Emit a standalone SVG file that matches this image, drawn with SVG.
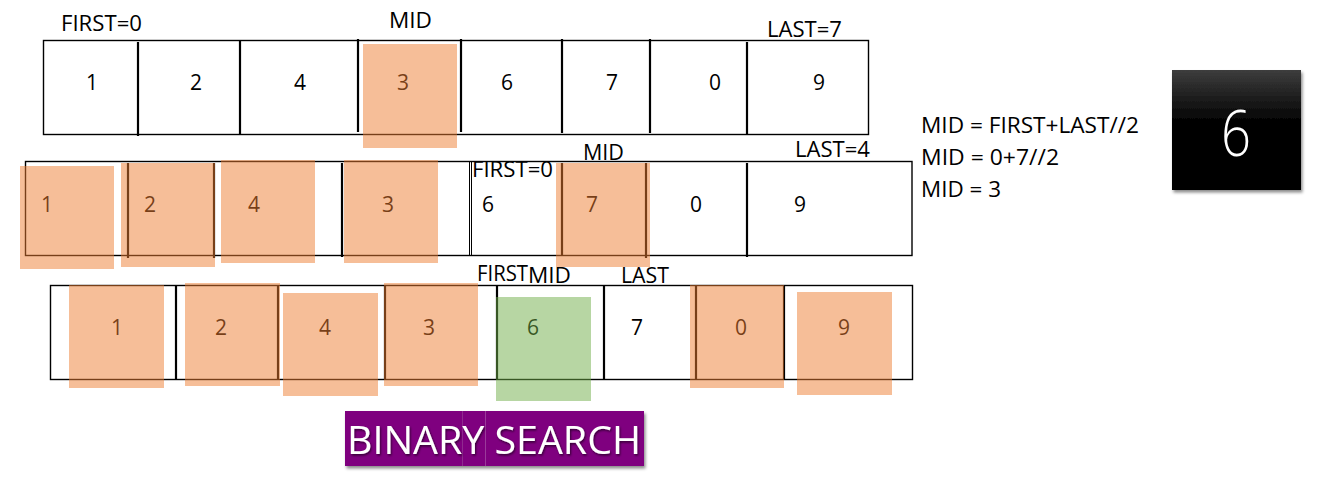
<svg xmlns="http://www.w3.org/2000/svg" width="1319" height="488" viewBox="0 0 1319 488">
<style>
.frame{fill:none;stroke:#000;stroke-width:1.4}
.div{stroke:#000;stroke-width:2.2}
.thin{stroke:#000;stroke-width:1}
.t{font-family:"Open Sans",Lato,"Liberation Sans",sans-serif;font-size:21px;fill:#000}
.n{font-family:"Open Sans",Lato,"Liberation Sans",sans-serif;font-size:21px;fill:#000;text-anchor:middle}
.hl{fill:#ED7D31;fill-opacity:0.5}
.ok{fill:#70AD47;fill-opacity:0.5}
</style>
<defs>
<linearGradient id="blk" x1="0" y1="0" x2="0" y2="1">
<stop offset="0" stop-color="#3d3d3d"/>
<stop offset="0.45" stop-color="#000"/>
<stop offset="1" stop-color="#000"/>
</linearGradient>
<filter id="sh" x="-10%" y="-10%" width="125%" height="130%">
<feDropShadow dx="1.5" dy="2.5" stdDeviation="1.8" flood-color="#000" flood-opacity="0.45"/>
</filter>
<filter id="tsh" x="-5%" y="-10%" width="110%" height="130%">
<feDropShadow dx="1" dy="1.5" stdDeviation="1" flood-color="#000" flood-opacity="0.6"/>
</filter>
</defs>
<rect width="1319" height="488" fill="#fff"/>

<g id="row1">
<rect class="frame" x="43.5" y="40.5" width="825" height="94"/>
<line class="div" x1="138" y1="42" x2="138" y2="136"/>
<line class="div" x1="240" y1="40" x2="240" y2="134"/>
<line class="div" x1="358" y1="39" x2="358" y2="132"/>
<line class="div" x1="461" y1="39" x2="461" y2="132"/>
<line class="div" x1="562" y1="39" x2="562" y2="133"/>
<line class="div" x1="650" y1="39" x2="650" y2="133"/>
<line class="div" x1="747" y1="42" x2="747" y2="135"/>
<text class="t" x="61" y="31" textLength="81" lengthAdjust="spacingAndGlyphs">FIRST=0</text>
<text class="t" x="389" y="28" textLength="43" lengthAdjust="spacingAndGlyphs">MID</text>
<text class="t" x="767" y="37" textLength="75" lengthAdjust="spacingAndGlyphs">LAST=7</text>
<text class="n" x="92" y="90">1</text>
<text class="n" x="196" y="90">2</text>
<text class="n" x="300" y="90">4</text>
<text class="n" x="403" y="90">3</text>
<text class="n" x="507" y="90">6</text>
<text class="n" x="612" y="90">7</text>
<text class="n" x="715" y="90">0</text>
<text class="n" x="819" y="90">9</text>
<rect class="hl" x="363" y="44" width="94" height="104"/>
</g>

<g id="row2">
<rect class="frame" x="25.5" y="161.5" width="886.5" height="94"/>
<line class="div" x1="128" y1="163" x2="128" y2="258"/>
<line class="div" x1="214" y1="163" x2="214" y2="258"/>
<line class="div" x1="342" y1="163" x2="342" y2="257"/>
<line class="thin" x1="469.5" y1="161" x2="469.5" y2="256"/>
<line class="thin" x1="471.5" y1="161" x2="471.5" y2="256"/>
<line class="div" x1="562" y1="163" x2="562" y2="255"/>
<line class="div" x1="646" y1="163" x2="646" y2="258"/>
<line class="div" x1="747" y1="163" x2="747" y2="257"/>
<text class="t" x="472" y="177" textLength="81" lengthAdjust="spacingAndGlyphs">FIRST=0</text>
<text class="t" x="583" y="160" textLength="41" lengthAdjust="spacingAndGlyphs">MID</text>
<text class="t" x="795" y="157" textLength="75" lengthAdjust="spacingAndGlyphs">LAST=4</text>
<text class="n" x="47" y="212">1</text>
<text class="n" x="150" y="212">2</text>
<text class="n" x="254" y="212">4</text>
<text class="n" x="388" y="212">3</text>
<text class="n" x="488" y="212">6</text>
<text class="n" x="592" y="212">7</text>
<text class="n" x="696" y="212">0</text>
<text class="n" x="800" y="212">9</text>
<rect class="hl" x="20" y="166" width="94" height="103"/>
<rect class="hl" x="121" y="163" width="94" height="104"/>
<rect class="hl" x="221" y="160" width="94" height="103"/>
<rect class="hl" x="344" y="160" width="94" height="103"/>
<rect class="hl" x="556" y="163" width="94" height="104"/>
</g>

<g id="row3">
<rect class="frame" x="50.5" y="285.5" width="862" height="94"/>
<line class="div" x1="176" y1="285" x2="176" y2="379"/>
<line class="div" x1="278" y1="285" x2="278" y2="379"/>
<line class="div" x1="385" y1="285" x2="385" y2="379"/>
<line class="div" x1="497" y1="285" x2="497" y2="379"/>
<line class="div" x1="604" y1="285" x2="604" y2="379"/>
<line class="div" x1="696" y1="285" x2="696" y2="379"/>
<line class="div" x1="784" y1="285" x2="784" y2="379"/>
<text class="t" x="477" y="281" textLength="51" lengthAdjust="spacingAndGlyphs">FIRST</text>
<text class="t" x="528" y="283" textLength="43" lengthAdjust="spacingAndGlyphs">MID</text>
<text class="t" x="621" y="283" textLength="48" lengthAdjust="spacingAndGlyphs">LAST</text>
<text class="n" x="117" y="335">1</text>
<text class="n" x="221" y="335">2</text>
<text class="n" x="325" y="335">4</text>
<text class="n" x="429" y="335">3</text>
<text class="n" x="533" y="335">6</text>
<text class="n" x="637" y="335">7</text>
<text class="n" x="741" y="335">0</text>
<text class="n" x="844" y="335">9</text>
<rect class="hl" x="69" y="285" width="95" height="103"/>
<rect class="hl" x="185" y="283" width="95" height="103"/>
<rect class="hl" x="283" y="293" width="95" height="103"/>
<rect class="hl" x="384" y="283" width="94" height="103"/>
<rect class="ok" x="496" y="297" width="95" height="104"/>
<rect class="hl" x="690" y="285" width="94" height="103"/>
<rect class="hl" x="797" y="292" width="95" height="103"/>
</g>

<g id="formula">
<text class="t" x="921" y="133" textLength="218" lengthAdjust="spacingAndGlyphs">MID = FIRST+LAST//2</text>
<text class="t" x="921" y="165" textLength="138" lengthAdjust="spacingAndGlyphs">MID = 0+7//2</text>
<text class="t" x="921" y="197" textLength="80" lengthAdjust="spacingAndGlyphs">MID = 3</text>
</g>

<g id="target">
<rect x="1172" y="70" width="129" height="120" fill="url(#blk)" filter="url(#sh)"/>
<text x="1236" y="156" font-family="'Open Sans',Lato,'Liberation Sans',sans-serif" font-weight="300" font-size="64" fill="#fff" text-anchor="middle" textLength="30" lengthAdjust="spacingAndGlyphs">6</text>
</g>

<g id="title">
<rect x="345" y="411" width="299" height="55" fill="#7F007F" filter="url(#sh)"/>
<line x1="462.5" y1="411" x2="462.5" y2="466" stroke="#8f2a8f" stroke-width="1"/>
<line x1="485.5" y1="411" x2="485.5" y2="466" stroke="#9a3a9a" stroke-width="1"/>
<text x="347" y="454" font-family="'Open Sans',Lato,'Liberation Sans',sans-serif" font-size="39" fill="#fff" filter="url(#tsh)" textLength="294" lengthAdjust="spacingAndGlyphs">BINARY SEARCH</text>
</g>

<g id="connectors"/>
</svg>
